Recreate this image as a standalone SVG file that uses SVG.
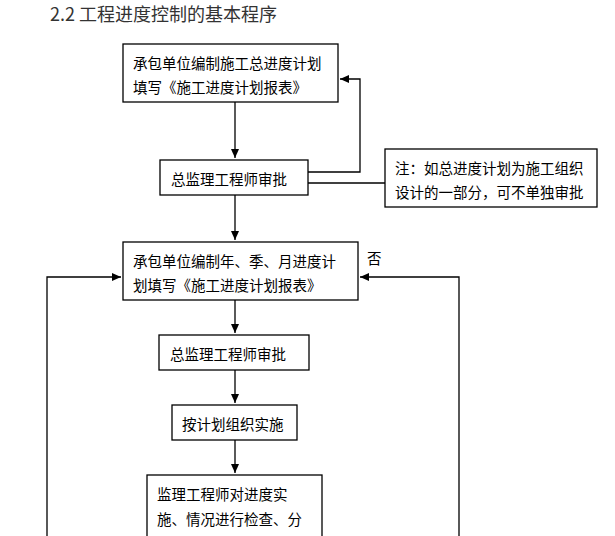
<svg xmlns="http://www.w3.org/2000/svg" width="615" height="536" viewBox="0 0 615 536">
<defs>
<marker id="a" markerWidth="10" markerHeight="10" refX="9" refY="5" orient="auto" markerUnits="userSpaceOnUse"><path d="M0,1 L9,5 L0,9 Z" fill="#000"/></marker>
<style>
rect{fill:#fff;stroke:#000;stroke-width:1.3}
text{font-family:"Noto Sans CJK SC","Liberation Sans",sans-serif;font-size:14.5px;fill:#000;dominant-baseline:central}
.c{fill:none;stroke:#000;stroke-width:1.3}
</style>
</defs>
<rect width="615" height="536" style="fill:#fff;stroke:none"/>
<text x="50" y="13" style="font-size:18px;fill:#333">2.2 工程进度控制的基本程序</text>
<g id="connectors">
<path class="c" d="M235,102 V158" marker-end="url(#a)"/>
<path class="c" d="M308,172 H360 V79 H340" marker-end="url(#a)"/>
<path class="c" d="M308,183 H385"/>
<path class="c" d="M235,195 V240" marker-end="url(#a)"/>
<path class="c" d="M235,300 V333" marker-end="url(#a)"/>
<path class="c" d="M235,370 V403" marker-end="url(#a)"/>
<path class="c" d="M235,440 V473" marker-end="url(#a)"/>
<path class="c" d="M47,536 V277 H121" marker-end="url(#a)"/>
<path class="c" d="M459,536 V277 H360" marker-end="url(#a)"/>
<path class="c" d="M235,536 V520"/>
</g>
<g id="n1"><rect x="123" y="44" width="215" height="58"/><text x="133" y="62">承包单位编制施工总进度计划</text><text x="133" y="86">填写《施工进度计划报表》</text></g>
<g id="n2"><rect x="160" y="160" width="148" height="35"/><text x="171" y="178">总监理工程师审批</text></g>
<g id="note"><rect x="385" y="149" width="212" height="58"/><text x="395" y="167">注：如总进度计划为施工组织</text><text x="395" y="191">设计的一部分，可不单独审批</text></g>
<g id="n3"><rect x="123" y="242" width="235" height="58"/><text x="133" y="260">承包单位编制年、季、月进度计</text><text x="133" y="284">划填写《施工进度计划报表》</text></g>
<text x="367" y="257">否</text>
<g id="n4"><rect x="159" y="335" width="150" height="35"/><text x="170" y="353">总监理工程师审批</text></g>
<g id="n5"><rect x="172" y="405" width="125" height="35"/><text x="182" y="423">按计划组织实施</text></g>
<g id="n6"><rect x="147" y="475" width="175" height="70"/><text x="157" y="493">监理工程师对进度实</text><text x="157" y="518">施、情况进行检查、分</text></g>
</svg>
